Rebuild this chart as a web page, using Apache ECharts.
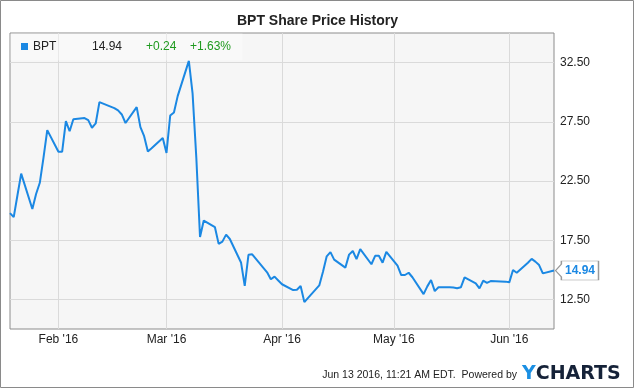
<!DOCTYPE html>
<html><head><meta charset="utf-8">
<script src="https://cdn.jsdelivr.net/npm/echarts@6/dist/echarts.min.js"></script>
<style>html,body{margin:0;padding:0;background:#fff}#c{width:635px;height:389px}</style>
</head><body><div id="c"></div>
<script>
const chartTitle = 'BPT Share Price History';
const seriesName = 'BPT';
const dates = [
 '2016-01-19','2016-01-20','2016-01-21','2016-01-22','2016-01-25','2016-01-26','2016-01-27','2016-01-28','2016-01-29',
 '2016-02-01','2016-02-02','2016-02-03','2016-02-04','2016-02-05','2016-02-08','2016-02-09','2016-02-10','2016-02-11','2016-02-12',
 '2016-02-16','2016-02-17','2016-02-18','2016-02-19','2016-02-22','2016-02-23','2016-02-24','2016-02-25','2016-02-26','2016-02-29',
 '2016-03-01','2016-03-02','2016-03-03','2016-03-04','2016-03-07','2016-03-08','2016-03-09','2016-03-10','2016-03-11',
 '2016-03-14','2016-03-15','2016-03-16','2016-03-17','2016-03-18','2016-03-21','2016-03-22','2016-03-23','2016-03-24',
 '2016-03-28','2016-03-29','2016-03-30','2016-03-31','2016-04-01',
 '2016-04-04','2016-04-05','2016-04-06','2016-04-07','2016-04-08','2016-04-11','2016-04-12','2016-04-13','2016-04-14','2016-04-15',
 '2016-04-18','2016-04-19','2016-04-20','2016-04-21','2016-04-22','2016-04-25','2016-04-26','2016-04-27','2016-04-28','2016-04-29',
 '2016-05-02','2016-05-03','2016-05-04','2016-05-05','2016-05-06','2016-05-09','2016-05-10','2016-05-11','2016-05-12','2016-05-13',
 '2016-05-16','2016-05-17','2016-05-18','2016-05-19','2016-05-20','2016-05-23','2016-05-24','2016-05-25','2016-05-26','2016-05-27',
 '2016-05-31','2016-06-01','2016-06-02','2016-06-03','2016-06-06','2016-06-07','2016-06-08','2016-06-09','2016-06-10','2016-06-13'
];
const prices = [
 19.79,19.45,21.30,23.12,20.13,21.40,22.35,24.50,26.80,
 24.97,24.98,27.55,26.70,27.72,27.82,27.64,27.00,27.36,29.16,
 28.66,28.46,28.12,27.40,28.74,27.05,26.28,25.00,25.26,26.14,
 24.87,28.03,28.28,29.67,32.65,29.90,24.50,17.77,19.16,
 18.60,17.19,17.38,17.97,17.60,15.62,13.65,16.27,16.31,
 14.79,14.20,14.42,14.10,13.78,
 13.29,13.31,13.63,12.27,12.63,13.68,14.84,16.14,16.49,15.86,
 15.18,16.28,16.59,15.90,16.74,15.47,16.18,16.18,15.60,16.52,
 15.35,14.56,14.56,14.75,14.37,12.95,13.60,14.14,13.20,13.52,
 13.52,13.50,13.45,13.52,14.36,13.86,13.43,14.08,13.90,14.05,
 14.00,13.94,14.98,14.75,15.60,15.92,15.69,15.40,14.70,14.94
];
const monthTicks = ['2016-02-01','2016-03-01','2016-04-01','2016-05-01','2016-06-01'];
const monthLabels = ["Feb '16","Mar '16","Apr '16","May '16","Jun '16"];
const yMin = 10, yMax = 35, yStep = 2.5;
const footerText = 'Jun 13 2016, 11:21 AM EDT.  Powered by';

// day number (UTC-based) so the x axis is a plain linear day scale
function dayNum(s){ const p = s.split('-').map(Number); return Math.round(Date.UTC(p[0], p[1]-1, p[2]) / 86400000); }
const d0 = dayNum(dates[0]);
const xs = dates.map(s => dayNum(s) - d0);
const monthX = monthTicks.map(s => dayNum(s) - d0);
const data = xs.map((x,i)=>[x, prices[i]]);
const last = prices[prices.length-1], prev = prices[prices.length-2];
const chg = last - prev, pct = chg / prev * 100;
const sgn = v => (v >= 0 ? '+' : '') + v.toFixed(2);

const FONT = 'Liberation Sans, Arial, sans-serif';
const blue = '#1b88e3';
const green = '#1f9a1f';
const chart = echarts.init(document.getElementById('c'), null, {renderer:'canvas'});
chart.setOption({
  animation: false,
  backgroundColor: '#fff',
  textStyle: {fontFamily: FONT},
  title: {text: chartTitle, left: 'center', top: 9, textStyle: {fontSize: 14, fontWeight: 'bold', color: '#222', fontFamily: FONT}},
  grid: {left: 10, right: 81, top: 33, bottom: 60, show: true, backgroundColor: '#f6f6f6', borderColor: '#8c8c8c', borderWidth: 1},
  xAxis: {
    type: 'value', min: xs[0], max: xs[xs.length-1],
    axisLine: {show: false}, axisTick: {show: false, customValues: monthX},
    axisLabel: {customValues: monthX, color: '#222', fontSize: 12, margin: 5,
      formatter: v => { const i = monthX.indexOf(v); return i >= 0 ? monthLabels[i] : ''; }},
    splitLine: {show: true, lineStyle: {color: '#dadada', width: 1}}
  },
  yAxis: {
    type: 'value', position: 'right', min: yMin, max: yMax, interval: yStep,
    axisLine: {show: false}, axisTick: {show: false},
    axisLabel: {color: '#222', fontSize: 12, margin: 6,
      formatter: v => (Math.abs((v % 5) - 2.5) < 1e-6 ? v.toFixed(2) : '')},
    splitLine: {show: true, lineStyle: {color: ['rgba(0,0,0,0)', '#dadada'], width: 1}}
  },
  series: [{
    name: seriesName, type: 'line', data: data, showSymbol: false, symbol: 'none',
    lineStyle: {color: blue, width: 2}, itemStyle: {color: blue},
    markPoint: {
      data: [{coord: data[data.length-1], value: last}],
      symbol: 'path://M0,9 L6,3 L6,0 L44,0 L44,18 L6,18 L6,15 Z',
      symbolSize: [43, 19], symbolKeepAspect: false, symbolOffset: [23, 0],
      itemStyle: {color: '#fff', borderColor: '#999', borderWidth: 1},
      label: {show: true, formatter: p => Number(p.value).toFixed(2), color: blue, fontWeight: 'bold', fontSize: 12, offset: [3, 0]}
    }
  }],
  graphic: [
    {type: 'rect', silent: true, z: 100, shape: {x: 10.5, y: 33.5, width: 232, height: 27}, style: {fill: 'rgba(255,255,255,0.4)', stroke: null}},
    {type: 'rect', silent: true, z: 101, shape: {x: 21, y: 43, width: 7, height: 7}, style: {fill: blue}},
    {type: 'text', silent: true, z: 101, x: 33, y: 47, style: {text: seriesName, fill: '#222', fontSize: 12, fontFamily: FONT, verticalAlign: 'middle'}},
    {type: 'text', silent: true, z: 101, x: 122, y: 47, style: {text: last.toFixed(2), fill: '#222', fontSize: 12, fontFamily: FONT, verticalAlign: 'middle', align: 'right'}},
    {type: 'text', silent: true, z: 101, x: 146, y: 47, style: {text: sgn(chg), fill: green, fontSize: 12, fontFamily: FONT, verticalAlign: 'middle'}},
    {type: 'text', silent: true, z: 101, x: 190, y: 47, style: {text: sgn(pct) + '%', fill: green, fontSize: 12, fontFamily: FONT, verticalAlign: 'middle'}},
    {type: 'text', silent: true, z: 101, x: 517, y: 375, style: {text: footerText, fill: '#222', fontSize: 10.5, fontFamily: FONT, verticalAlign: 'middle', align: 'right'}},
    {type: 'text', silent: true, z: 101, x: 522, y: 374, style: {
      text: '{y|Y}{c|CHARTS}', verticalAlign: 'middle',
      rich: {y: {fill: '#1a8fe3', fontSize: 19, fontWeight: 'bold', fontFamily: 'DejaVu Sans'},
             c: {fill: '#152238', fontSize: 19, fontWeight: 'bold', fontFamily: 'DejaVu Sans'}}}},
    {type: 'rect', silent: true, z: 102, shape: {x: 0.5, y: 0.5, width: 633, height: 387}, style: {fill: null, stroke: '#8a8a8a', lineWidth: 1}}
  ]
});
</script></body></html>
